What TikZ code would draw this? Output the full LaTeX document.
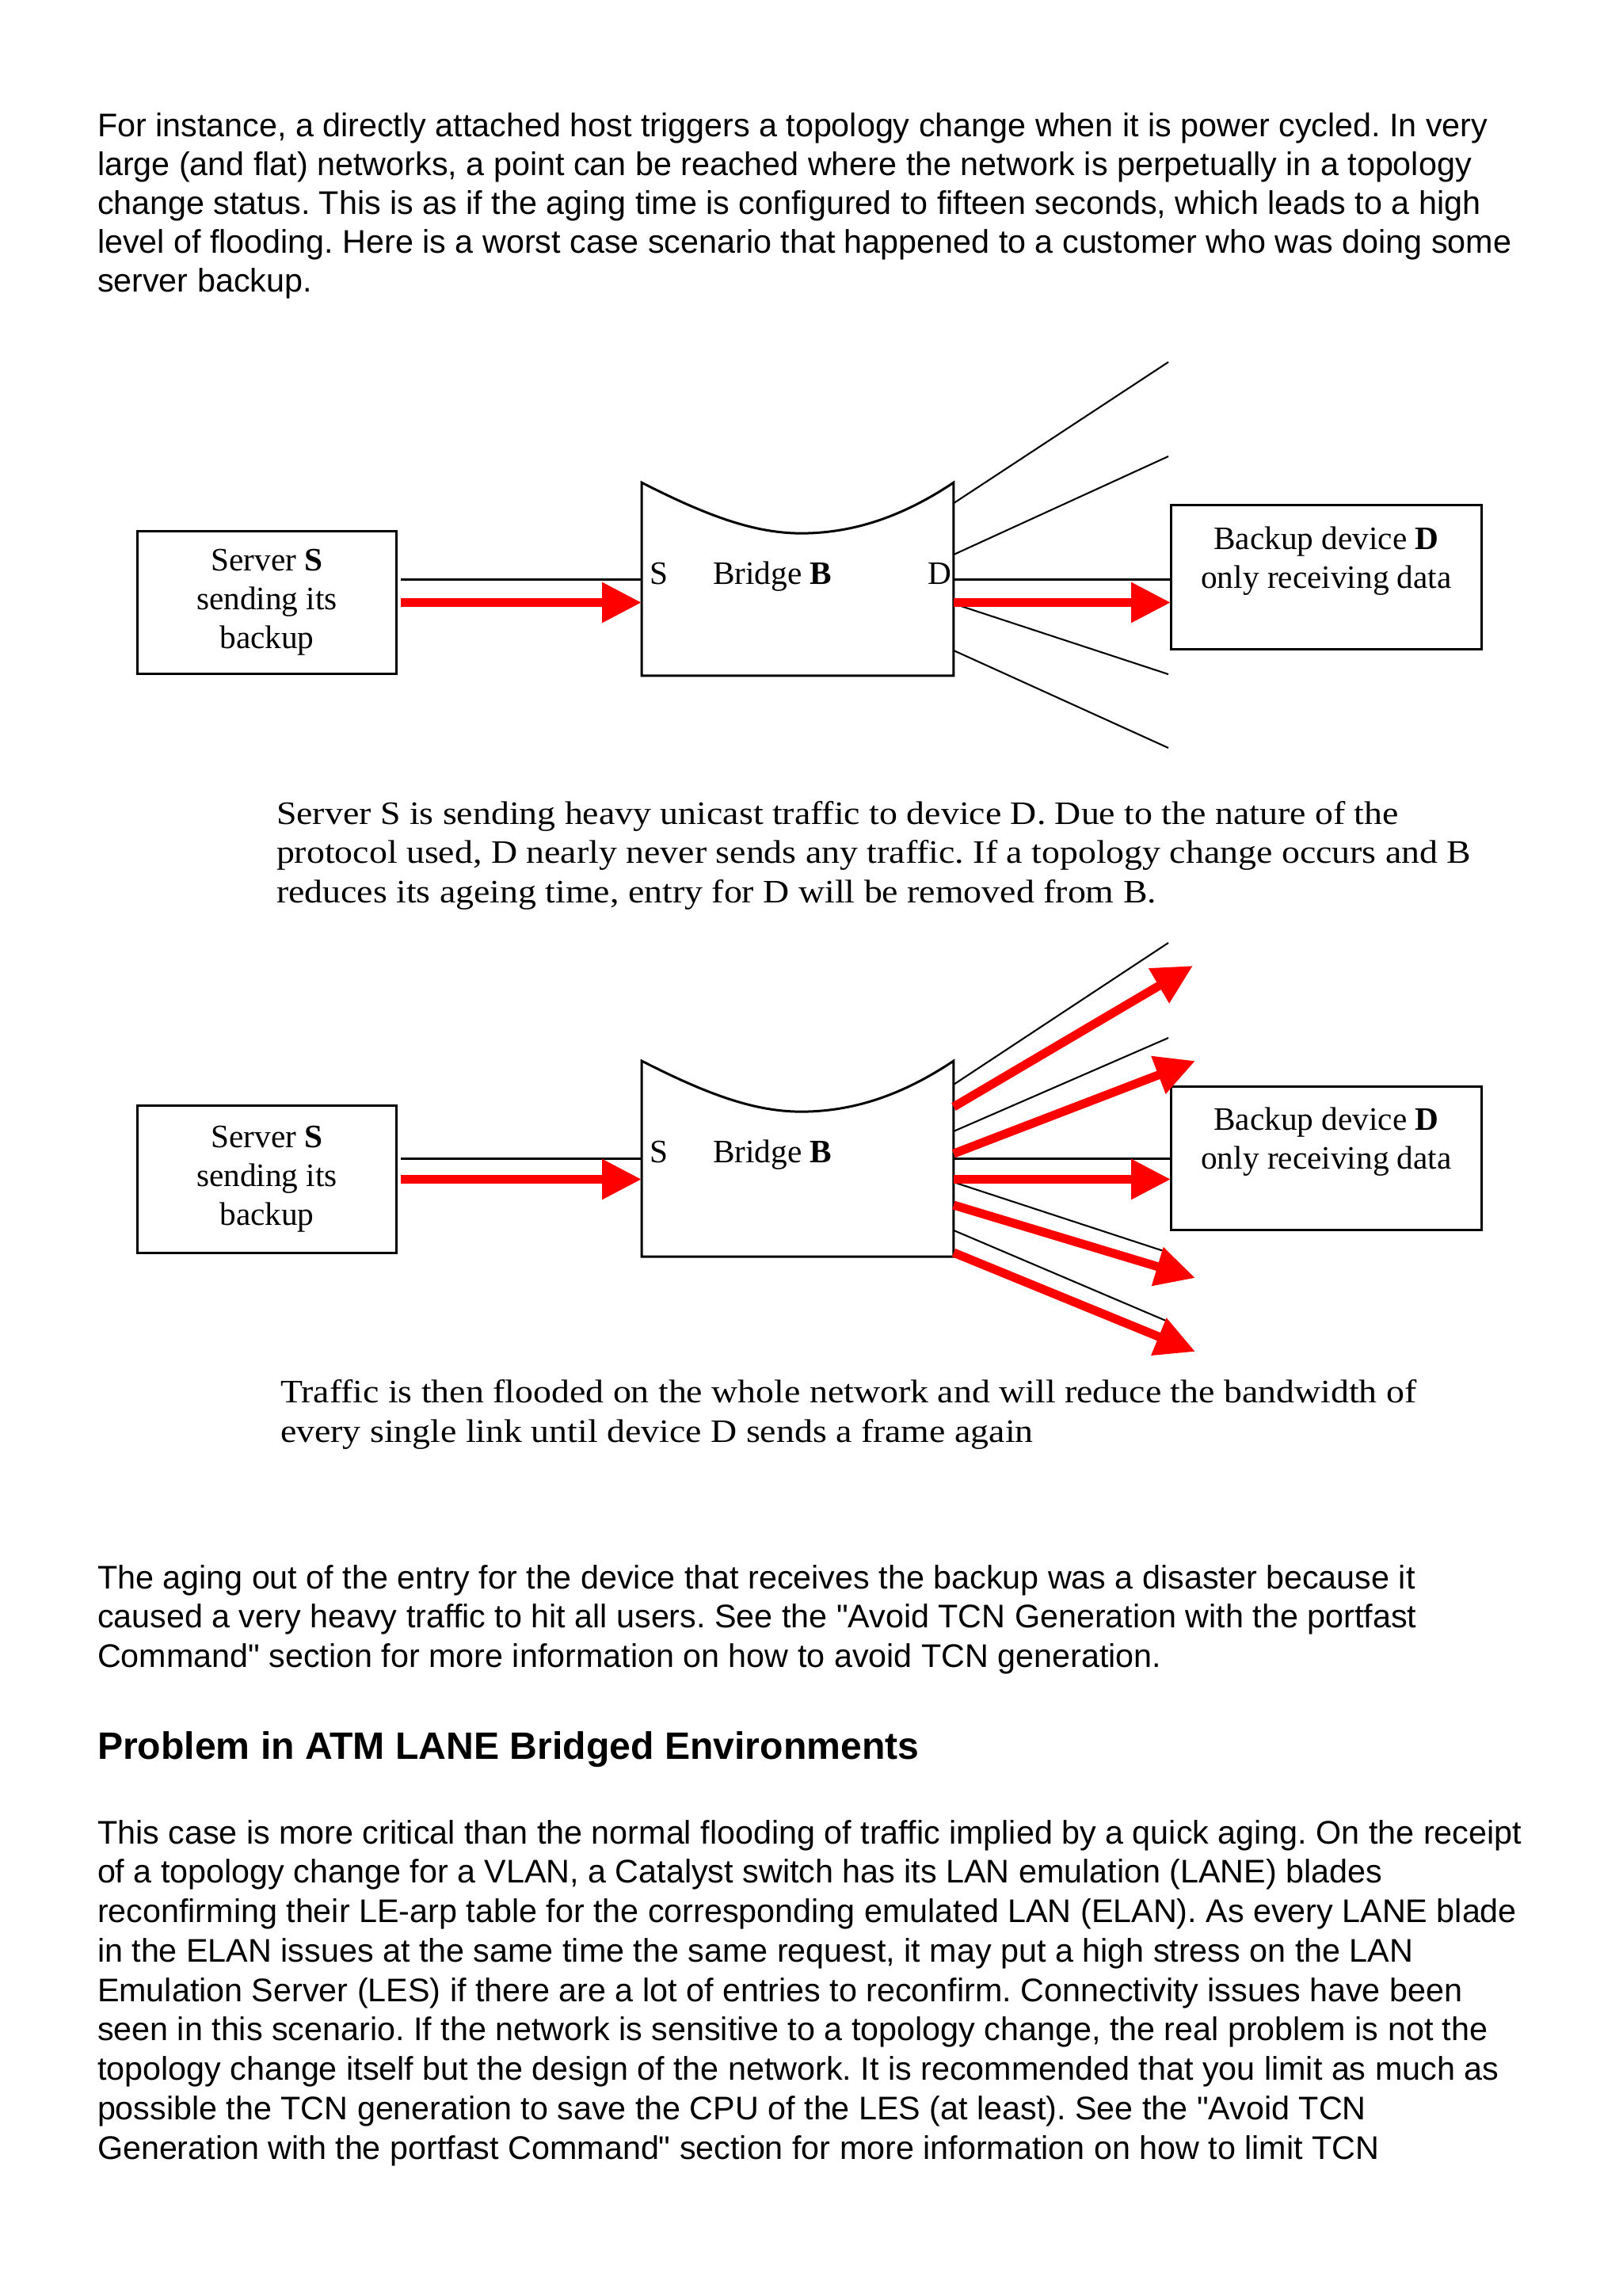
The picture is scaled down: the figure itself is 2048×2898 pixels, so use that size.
\documentclass[tikz,border=0pt]{standalone}
\usepackage{fontspec}
\setmainfont{Liberation Sans}[Ligatures=TeXOff]
\newfontfamily\figfont{Liberation Serif}
\newfontfamily\capfont{Liberation Serif}[FakeStretch=1.11]
\usetikzlibrary{arrows.meta,positioning,calc}
\frenchspacing

\begin{document}
\begin{tikzpicture}[
    x=0.29066pt, y=-0.29066pt,
    every node/.style={inner sep=0pt, outer sep=0pt},
    para/.style={anchor=base west, font=\fontsize{12}{14}\selectfont},
    heading/.style={anchor=base west, font=\fontsize{14}{17}\selectfont\bfseries},
    caption/.style={anchor=base west, font=\capfont\fontsize{12}{14}\selectfont},
    box/.style={draw, line width=0.87pt, align=center, font=\figfont\fontsize{12}{14.2}\selectfont},
    srvbox/.style={box, minimum width=95.3pt, minimum height=52.6pt},
    bakbox/.style={box, minimum width=114.2pt, minimum height=52.9pt},
    bridgebox/.style={minimum width=114.5pt, minimum height=70.9pt},
    port/.style={anchor=base west, font=\figfont\fontsize{12}{14}\selectfont},
    link/.style={line width=0.87pt},
    fan/.style={line width=0.6pt},
    flow/.style={red, line width=3.2pt, -{Triangle[length=14.5pt, width=14pt]}}
]
\useasboundingbox (0,0) rectangle (2048,2898);

% intro paragraph
\foreach \txt [count=\i from 0] in {
    {For instance, a directly attached host triggers a topology change when it is power cycled. In very},
    {large (and flat) networks, a point can be reached where the network is perpetually in a topology},
    {change status. This is as if the aging time is configured to fifteen seconds, which leads to a high},
    {level of flooding. Here is a worst case scenario that happened to a customer who was doing some},
    {server backup.}}
  \node[para] (intro\i) at (123,{172+49*\i}) {\txt};

% first figure: normal unicast
\node[srvbox] (srv1) at (337,760.5) {Server \textbf{S}\\sending its\\backup};
\node[bridgebox] (br1) at (1007,731) {};
\node[bakbox] (bak1) at (1674.5,728) {Backup device \textbf{D}\\only receiving data\\\mbox{}};
\draw[link] (br1.south west) -- (br1.north west)
  .. controls (900,655) and (960,675) .. (1020,673)
  .. controls (1090,671) and (1150,645) .. (br1.north east) -- (br1.south east) -- cycle;
\node[port] (sport1) at (820,737) {S};
\node[port] (brlbl1) at (900,737) {Bridge \textbf{B}};
\node[port, anchor=base east] (dport1) at (1201,737) {D};

\coordinate (e11) at (1475,457);
\coordinate (e12) at (1475,576);
\coordinate (e13) at (1475,851);
\coordinate (e14) at (1475,944);
\foreach \f/\e in {0.107/e11, 0.373/e12, 0.627/e13, 0.869/e14}
  \draw[fan] ($(br1.north east)!\f!(br1.south east)$) -- (\e);

\draw[link] ([xshift=1.45pt]srv1.east |- br1.west) -- (br1.west);
\draw[link] (br1.east) -- (br1.east -| bak1.west);
\draw[flow] ([xshift=1.45pt]srv1.east) -- (br1.west |- srv1.east);
\draw[flow] (br1.east |- srv1.east) -- (bak1.west |- srv1.east);

\node[caption] (cap1a) at (349,1040) {Server S is sending heavy unicast traffic to device D. Due to the nature of the};
\node[caption] (cap1b) at (349,1089) {protocol used, D nearly never sends any traffic. If a topology change occurs and B};
\node[caption] (cap1c) at (349,1139) {reduces its ageing time, entry for D will be removed from B.};

% second figure: flooding
\node[srvbox, minimum height=53.8pt] (srv2) at (337,1488.5) {Server \textbf{S}\\sending its\\backup};
\node[bridgebox, minimum height=71.8pt] (br2) at (1007,1462.5) {};
\node[bakbox, minimum height=52.6pt] (bak2) at (1674.5,1461.5) {Backup device \textbf{D}\\only receiving data\\\mbox{}};
\draw[link] (br2.south west) -- (br2.north west)
  .. controls (900,1385) and (960,1405) .. (1020,1403)
  .. controls (1090,1401) and (1150,1375) .. (br2.north east) -- (br2.south east) -- cycle;
\node[port] (sport2) at (820,1467) {S};
\node[port] (brlbl2) at (900,1467) {Bridge \textbf{B}};

\coordinate (e21) at (1475,1190);
\coordinate (e22) at (1475,1310);
\coordinate (e23) at (1472,1580);
\coordinate (e24) at (1472,1667);
\foreach \f/\e in {0.121/e21, 0.36/e22, 0.62/e23, 0.866/e24}
  \draw[fan] ($(br2.north east)!\f!(br2.south east)$) -- (\e);

\draw[link] ([xshift=1.45pt]srv2.east |- br2.west) -- (br2.west);
\draw[link] (br2.east) -- (br2.east -| bak2.west);
\draw[flow] ([xshift=1.45pt]srv2.east) -- (br2.west |- srv2.east);
\draw[flow] (br2.east |- srv2.east) -- (bak2.west |- srv2.east);

\coordinate (t21) at (1506,1219);
\coordinate (t22) at (1509,1339);
\coordinate (t23) at (1509,1613);
\coordinate (t24) at (1509,1706);
\foreach \f/\t in {0.235/t21, 0.474/t22, 0.737/t23, 0.98/t24}
  \draw[flow] ($(br2.north east)!\f!(br2.south east)$) -- (\t);

\node[caption] (cap2a) at (354,1770) {Traffic is then flooded on the whole network and will reduce the bandwidth of};
\node[caption] (cap2b) at (354,1820) {every single link until device D sends a frame again};

% closing text
\foreach \txt [count=\i from 0] in {
    {The aging out of the entry for the device that receives the backup was a disaster because it},
    {caused a very heavy traffic to hit all users. See the "Avoid TCN Generation with the portfast},
    {Command" section for more information on how to avoid TCN generation.}}
  \node[para] (outro\i) at (123,{2005+49.5*\i}) {\txt};

\node[heading] (lanehead) at (123,2220) {Problem in ATM LANE Bridged Environments};

\foreach \txt [count=\i from 0] in {
    {This case is more critical than the normal flooding of traffic implied by a quick aging. On the receipt},
    {of a topology change for a VLAN, a Catalyst switch has its LAN emulation (LANE) blades},
    {reconfirming their LE-arp table for the corresponding emulated LAN (ELAN). As every LANE blade},
    {in the ELAN issues at the same time the same request, it may put a high stress on the LAN},
    {Emulation Server (LES) if there are a lot of entries to reconfirm. Connectivity issues have been},
    {seen in this scenario. If the network is sensitive to a topology change, the real problem is not the},
    {topology change itself but the design of the network. It is recommended that you limit as much as},
    {possible the TCN generation to save the CPU of the LES (at least). See the "Avoid TCN},
    {Generation with the portfast Command" section for more information on how to limit TCN}}
  \node[para] (lane\i) at (123,{2327+49.75*\i}) {\txt};
\end{tikzpicture}
\end{document}
